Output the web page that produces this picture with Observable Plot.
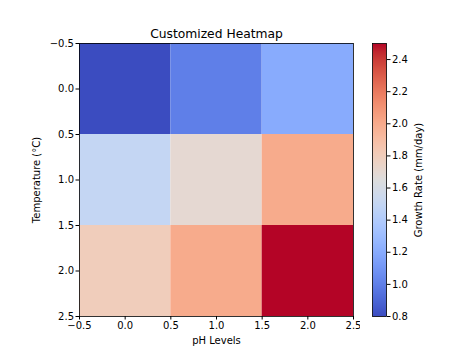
<!DOCTYPE html>
<html>
<head>
<meta charset="utf-8">
<script src="https://cdn.jsdelivr.net/npm/d3@7"></script>
<script src="https://cdn.jsdelivr.net/npm/@observablehq/plot@0.6"></script>
<style>
  html, body { margin: 0; padding: 0; background: white; }
  #chart { display: flex; width: 474px; height: 355px; }
</style>
</head>
<body>
<div id="chart"></div>
<script>
// Data
const phLevels = [0, 1, 2];
const temperatures = [0, 1, 2];
const growthRates = [
  [0.8, 1.0, 1.2],
  [1.5, 1.7, 2.0],
  [1.8, 2.0, 2.5]
];
const axisTicks = [-0.5, 0, 0.5, 1, 1.5, 2, 2.5];
const colorbarTicks = [0.8, 1.0, 1.2, 1.4, 1.6, 1.8, 2.0, 2.2, 2.4];
const colorDomain = [0.8, 2.5];
// Moreland coolwarm control colours
const coolwarmColors = [
  "rgb(59,76,192)","rgb(68,90,204)","rgb(77,104,215)","rgb(87,117,225)",
  "rgb(98,130,234)","rgb(108,142,241)","rgb(119,154,247)","rgb(130,165,251)",
  "rgb(141,176,254)","rgb(152,185,255)","rgb(163,194,255)","rgb(174,201,253)",
  "rgb(184,208,249)","rgb(194,213,244)","rgb(204,217,238)","rgb(213,219,230)",
  "rgb(221,221,221)","rgb(229,216,209)","rgb(236,211,197)","rgb(241,204,185)",
  "rgb(245,196,173)","rgb(247,187,160)","rgb(247,177,148)","rgb(247,166,135)",
  "rgb(244,154,123)","rgb(241,141,111)","rgb(236,127,99)","rgb(229,112,88)",
  "rgb(222,96,77)","rgb(213,80,66)","rgb(203,62,56)","rgb(192,40,47)","rgb(180,4,38)"
];
const coolwarm = d3.piecewise(d3.interpolateRgb, coolwarmColors);

const cells = [];
temperatures.forEach((t, i) => phLevels.forEach((p, j) => cells.push({ph: p, temp: t, value: growthRates[i][j]})));

const fmt = d3.format(".1f");
const baseStyle = {fontFamily: "DejaVu Sans, sans-serif", fontSize: "10px", color: "black", background: "white", overflow: "visible"};

const main = Plot.plot({
  width: 360, height: 355,
  marginLeft: 79, marginRight: 7, marginTop: 43, marginBottom: 39,
  style: baseStyle,
  x: {domain: [-0.5, 2.5], ticks: axisTicks, tickFormat: fmt, tickSize: 3.5, tickPadding: 2,
      label: "pH Levels", labelAnchor: "center", labelArrow: "none", labelOffset: 27},
  y: {domain: [-0.5, 2.5], reverse: true, ticks: axisTicks, tickFormat: fmt, tickSize: 3.5, tickPadding: 2,
      label: "Temperature (°C)", labelAnchor: "center", labelArrow: "none", labelOffset: 47},
  color: {type: "linear", domain: colorDomain, interpolate: coolwarm},
  marks: [
    Plot.rect(cells, {x1: d => d.ph - 0.5, x2: d => d.ph + 0.5, y1: d => d.temp - 0.5, y2: d => d.temp + 0.5, fill: "value"}),
    Plot.frame({stroke: "black", strokeWidth: 0.8}),
    Plot.text(["Customized Heatmap"], {frameAnchor: "top", lineAnchor: "bottom", dy: -6, fontSize: 12.3, fill: "black"})
  ]
});

const bar = Plot.plot({
  width: 114, height: 355,
  marginLeft: 12, marginRight: 88, marginTop: 43, marginBottom: 39,
  style: baseStyle,
  x: {domain: [0, 1], axis: null},
  y: {domain: colorDomain, axis: "right", ticks: colorbarTicks, tickFormat: fmt, tickSize: 3.5, tickPadding: 2,
      label: "Growth Rate (mm/day)", labelAnchor: "center", labelArrow: "none", labelOffset: 35},
  color: {type: "linear", domain: colorDomain, interpolate: coolwarm},
  marks: [
    Plot.raster({x1: 0, x2: 1, y1: colorDomain[0], y2: colorDomain[1], fill: (x, y) => y}),
    Plot.frame({stroke: "black", strokeWidth: 0.8})
  ]
});

const chart = document.getElementById("chart");
chart.appendChild(main);
chart.appendChild(bar);
</script>
</body>
</html>
